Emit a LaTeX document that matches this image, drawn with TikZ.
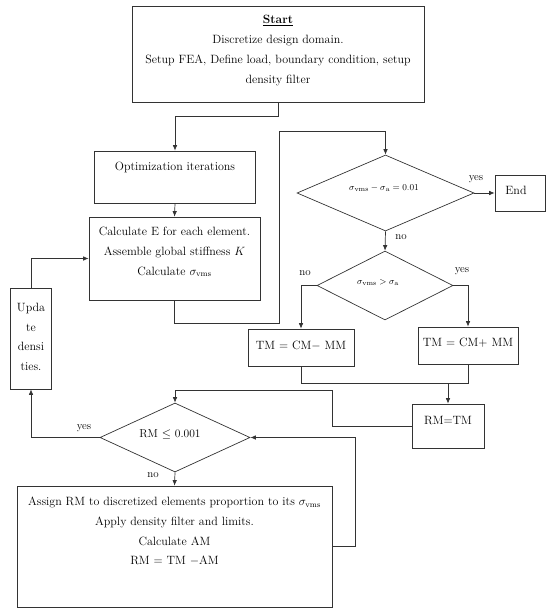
\documentclass[tikz,border=0pt]{standalone}
\usetikzlibrary{shapes.geometric,arrows.meta}
\begin{document}
\begin{tikzpicture}[x=1pt,y=-1pt,
 box/.style={draw=black!80, line width=0.7pt, inner sep=0pt},
 dia/.style={diamond, draw=black!80, line width=0.7pt, inner sep=0pt, aspect=2},
 txt/.style={font=\fontsize{12}{19.7}\selectfont, align=center, inner sep=0pt},
 dtxt/.style={font=\fontsize{9.5}{12}\selectfont, inner sep=0pt},
 lab/.style={font=\fontsize{11}{13}\selectfont, inner sep=0pt},
 arr/.style={draw=black!80, line width=0.7pt, -{Latex[length=5.5pt,width=4.5pt]}},
 ln/.style={draw=black!80, line width=0.7pt}]
\useasboundingbox (0,0) rectangle (550,612);
\fill[white] (0,0) rectangle (550,612);

% boxes
\node[box, minimum width=292pt, minimum height=96pt] (top) at (278,54) {};
\node[txt] (topt) at (278,50.5) {\underline{\textbf{Start}}\\Discretize design domain.\\Setup FEA, Define load, boundary condition, setup\\density filter};

\node[box, minimum width=161pt, minimum height=52pt] (opt) at (175,177) {};
\node[txt] (optt) at (175,167) {Optimization iterations};

\node[box, minimum width=171pt, minimum height=83pt] (calc) at (174.5,258.5) {};
\node[txt] (calct) at (174.5,252) {Calculate E for each element.\\Assemble global stiffness $K$\\Calculate $\sigma_{\mathrm{vms}}$};

\node[box, minimum width=41pt, minimum height=101pt] (upd) at (31,338.5) {};
\node[txt] (updt) at (31,337) {Upda\\te\\densi\\ties.};

\node[box, minimum width=50pt, minimum height=36pt] (end) at (520,193) {};
\node[txt] (endt) at (516,190) {End};

\node[box, minimum width=106pt, minimum height=37pt] (tmm) at (301,347.5) {};
\node[txt] (tmmt) at (301,346) {TM = CM$-$ MM};

\node[box, minimum width=100pt, minimum height=37pt] (tmp) at (468,345.5) {};
\node[txt] (tmpt) at (468,343) {TM = CM+ MM};

\node[box, minimum width=72pt, minimum height=44pt] (rm) at (448,426) {};
\node[txt] (rmt) at (448,421) {RM=TM};

\node[box, minimum width=315pt, minimum height=121pt] (bot) at (174.5,546.5) {};
\node[txt] (bott) at (174.5,531.5) {Assign RM to discretized elements proportion to its $\sigma_{\mathrm{vms}}$\\Apply density filter and limits.\\Calculate AM\\RM = TM $-$AM};

% diamonds
\node[dia, minimum width=177pt, minimum height=76pt] (d1) at (385.5,193) {};
\node[dtxt] (d1t) at (384,188) {$\sigma_{\mathrm{vms}} - \sigma_{\mathrm{a}} = 0.01$};
\node[dia, minimum width=136pt, minimum height=69pt] (d2) at (385,285.5) {};
\node[dtxt] (d2t) at (378,283) {$\sigma_{\mathrm{vms}} > \sigma_{\mathrm{a}}$};
\node[dia, minimum width=150pt, minimum height=69pt] (d3) at (175,437.5) {};
\node[txt, font=\fontsize{11.5}{14}\selectfont] (d3t) at (170,434) {RM $\leq$ 0.001};

% labels
\node[lab] (l1) at (476,179) {yes};
\node[lab] (l2) at (401,237) {no};
\node[lab] (l3) at (305,273) {no};
\node[lab] (l4) at (462,271) {yes};
\node[lab] (l5) at (84,428) {yes};
\node[lab] (l6) at (153,475) {no};

% connectors
\draw[arr] (top.south) -- ++(0,14) -| (opt.north);
\draw[arr] (opt.south) -- (calc.north);
\draw[arr] (calc.south) |- (279,323) -- (279,131) -| (d1.north);
\draw[arr] (d1.east) -- (end.west);
\draw[arr] (d1.south) -- (d2.north);
\draw[arr] (d2.west) -| (tmm.north);
\draw[arr] (d2.east) -| (tmp.north);
\draw[ln] (tmm.south) |- (tmp.south |- 0,383) -- (tmp.south);
\draw[arr] (rm.north |- 0,383) -- (rm.north);
\draw[arr] (rm.west) -| (332,390) -| (d3.north);
\draw[arr] (d3.west) -| (upd.south);
\draw[arr] (upd.north) |- (calc.west);
\draw[arr] (d3.south) -- (bot.north);
\draw[arr] (bot.east) -- ++(23,0) |- (d3.east);
\end{tikzpicture}
\end{document}
